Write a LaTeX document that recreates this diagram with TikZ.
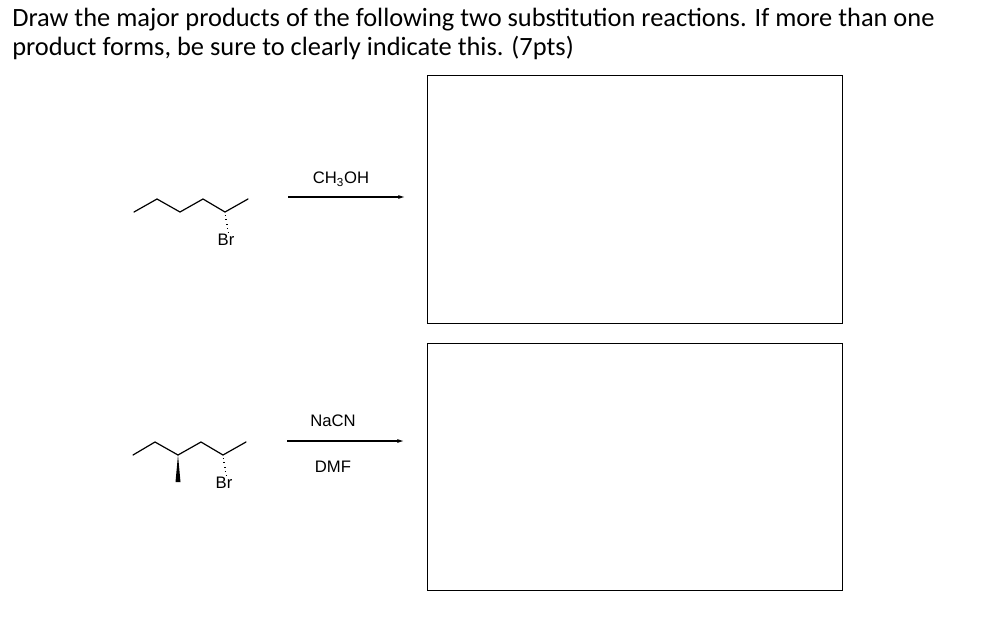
\documentclass[tikz,border=0pt]{standalone}
\usepackage{fontspec}
\setmainfont{Carlito}
\newfontfamily\chem{Liberation Sans}
\usetikzlibrary{arrows.meta,calc}
\begin{document}
\begin{tikzpicture}[x=0.75pt,y=-0.75pt,
  bond/.style={line width=0.9pt,line cap=round,line join=round},
  lbl/.style={font=\chem\fontsize{12.5}{14}\selectfont,inner sep=0pt},
  rxn/.style={line width=0.8pt,-{Latex[length=5pt,width=3pt]}},
  ansbox/.style={draw,line width=0.8pt}]
\useasboundingbox[fill=white] (0,0) rectangle (996,622);
\node[anchor=north west,align=left,inner sep=0pt,font=\fontsize{19.8}{21.5}\selectfont] (q) at (12,8)
  {Draw the major products of the following two substitution reactions. If more than one\\product forms, be sure to clearly indicate this. (7pts)};
% molecule 1
\draw[bond] (134,212) -- (157,199) -- (180,212) -- (203,199) -- (225,212) -- (248,199);
\coordinate (c1) at (225,212);
\node[lbl] (br1) at (226,240) {Br};
\foreach \t in {0.15,0.35,0.55,0.75,0.95}
  \draw[line width=0.8pt] ($(c1)!\t!(br1.north)+(-{0.8+2.5*\t},0)$) -- ($(c1)!\t!(br1.north)+({0.8+2.5*\t},0)$);
% molecule 2
\draw[bond] (133,455) -- (155,442) -- (178,455) -- (201,442) -- (223,455) -- (246,442);
\fill (178,455) -- (175.5,482) -- (180.5,482) -- cycle;
\coordinate (c2) at (223,455);
\node[lbl] (br2) at (224,483) {Br};
\foreach \t in {0.15,0.35,0.55,0.75,0.95}
  \draw[line width=0.8pt] ($(c2)!\t!(br2.north)+(-{0.8+2.5*\t},0)$) -- ($(c2)!\t!(br2.north)+({0.8+2.5*\t},0)$);
% arrows
\coordinate (a1s) at (288,197); \coordinate (a1e) at (405,197);
\draw[rxn] (a1s) -- (a1e);
\node[lbl] (r1) at (341,179) {CH\textsubscript{3}OH};
\coordinate (a2s) at (287,441); \coordinate (a2e) at (404,441);
\draw[rxn] (a2s) -- (a2e);
\node[lbl] (r2) at (333,421) {NaCN};
\node[lbl] (r3) at (333,467) {DMF};
% boxes
\node[ansbox,minimum width=311.25pt,minimum height=186pt,anchor=north west,inner sep=0pt] (b1) at (427,75) {};
\node[ansbox,minimum width=311.25pt,minimum height=185.25pt,anchor=north west,inner sep=0pt] (b2) at (427,343) {};
\end{tikzpicture}
\end{document}
